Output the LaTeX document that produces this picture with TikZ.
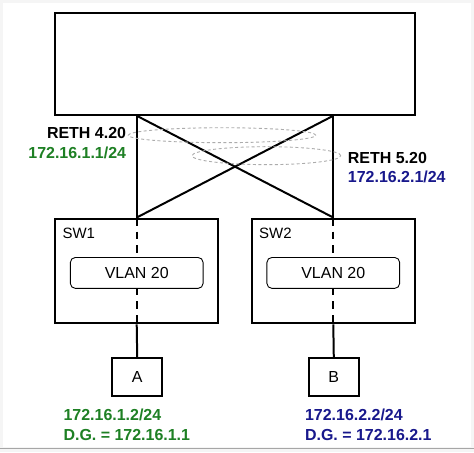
\documentclass[tikz,border=0pt]{standalone}
\usepackage{fontspec}
\setmainfont{Liberation Sans}
\usetikzlibrary{shapes.geometric}
\definecolor{ipgreen}{RGB}{30,128,36}
\definecolor{ipblue}{RGB}{24,24,140}
\tikzset{
  devbox/.style={draw, line width=2pt, inner sep=0pt},
  vlanbox/.style={draw, fill=white, rounded corners=5pt, line width=0.9pt, inner sep=0pt,
    minimum width=133pt, minimum height=31pt, font=\fontsize{16}{19}\selectfont},
  link/.style={line width=2pt},
  tagline/.style={line width=2pt, dash pattern=on 8pt off 6pt},
  rethring/.style={draw=gray!65, dash pattern=on 3pt off 2.5pt, line width=0.9pt, ellipse, inner sep=0pt},
  addr/.style={inner sep=0pt, font=\bfseries\fontsize{16}{20}\selectfont}
}
\begin{document}
\begin{tikzpicture}[x=1pt,y=-1pt]
% frame
\fill[gray!8] (0,0) rectangle (474,453);
\fill[white] (3,3) rectangle (471,448);
\draw[gray!70, line width=1pt] (0,449) -- (474,449);
\useasboundingbox (0,0) rectangle (474,453);
% firewall and switches
\node[devbox, minimum width=360pt, minimum height=102pt] (fw) at (235,64) {};
\node[devbox, minimum width=163pt, minimum height=105pt] (sw1) at (136.5,271.5) {};
\node[devbox, minimum width=163pt, minimum height=105pt] (sw2) at (333.5,271.5) {};
\node[anchor=north west, inner sep=0pt, font=\fontsize{15}{18}\selectfont] (sw1lbl) at ([shift={(8,10)}]sw1.north west) {SW1};
\node[anchor=north west, inner sep=0pt, font=\fontsize{15}{18}\selectfont] (sw2lbl) at ([shift={(8,10)}]sw2.north west) {SW2};
% links
\draw[link] (fw.south -| sw1.north) -- (sw1.north);
\draw[link] (fw.south -| sw2.north) -- (sw2.north);
\draw[link] (fw.south -| sw1.north) -- (sw2.north);
\draw[link] (fw.south -| sw2.north) -- (sw1.north);
\draw[tagline] (sw1.north) -- (sw1.south);
\draw[tagline] (sw2.north) -- (sw2.south);
\node[vlanbox] (vlan1) at (136.5,273.5) {VLAN 20};
\node[vlanbox] (vlan2) at (333.5,273.5) {VLAN 20};
% hosts
\node[devbox, minimum width=50pt, minimum height=38pt, font=\fontsize{16}{19}\selectfont] (hostA) at (137,378) {A};
\node[devbox, minimum width=50pt, minimum height=38pt, font=\fontsize{16}{19}\selectfont] (hostB) at (334,378) {B};
\draw[link] (sw1.south) -- (hostA.north);
\draw[link] (sw2.south) -- (hostB.north);
% reth interfaces
\node[rethring, minimum width=188pt, minimum height=15pt] (reth4) at (222,135.5) {};
\node[rethring, minimum width=149pt, minimum height=18pt] (reth5) at (266.5,156) {};
\node[addr, anchor=north east, align=right] (reth4lbl) at (126,127)
  {RETH 4.20\\\textcolor{ipgreen}{172.16.1.1/24}};
\node[addr, anchor=north west, align=left] (reth5lbl) at (348,152)
  {RETH 5.20\\\textcolor{ipblue}{172.16.2.1/24}};
% host addresses
\node[addr, anchor=north west, align=left, text=ipgreen] (addrA) at (63,410)
  {172.16.1.2/24\\D.G. = 172.16.1.1};
\node[addr, anchor=north west, align=left, text=ipblue] (addrB) at (305,410)
  {172.16.2.2/24\\D.G. = 172.16.2.1};
\end{tikzpicture}
\end{document}
